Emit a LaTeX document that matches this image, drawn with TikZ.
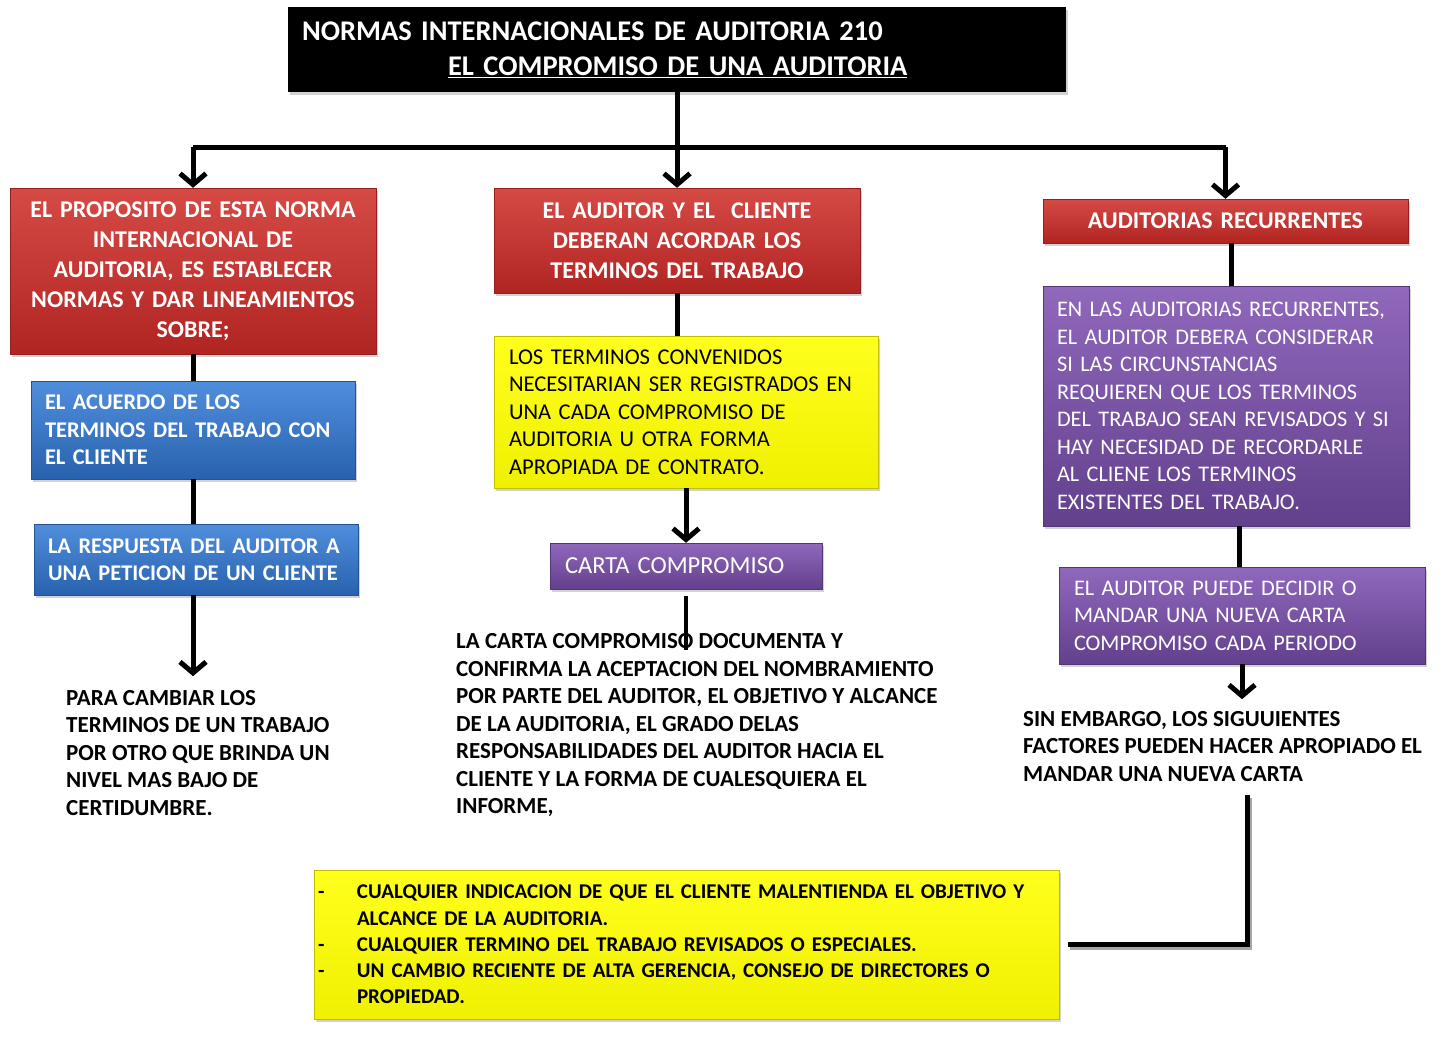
\documentclass[tikz,border=0pt]{standalone}
\usepackage{fontspec}
\setmainfont{Carlito}
\usetikzlibrary{arrows.meta,shadows}
\definecolor{redtop}{RGB}{214,74,70}
\definecolor{redbot}{RGB}{176,36,34}
\definecolor{bluetop}{RGB}{80,142,220}
\definecolor{bluebot}{RGB}{40,98,174}
\definecolor{purpletop}{RGB}{144,104,188}
\definecolor{purplebot}{RGB}{98,64,140}
\definecolor{yellowtop}{RGB}{255,255,30}
\definecolor{yellowbot}{RGB}{240,240,0}
\tikzset{
  box/.style={inner ysep=0pt, drop shadow={shadow xshift=2pt,shadow yshift=-3pt,opacity=0.35}},
  titlebox/.style={box, fill=black, text=white, align=left,
    font=\bfseries\fontsize{28.5}{35}\selectfont},
  redbox/.style={box, top color=redtop, bottom color=redbot, draw=redbot!85!black,
    text=white, align=center, font=\bfseries\fontsize{24}{30}\selectfont},
  bluebox/.style={box, top color=bluetop, bottom color=bluebot, draw=bluebot!85!black,
    text=white, align=left, font=\bfseries\fontsize{22.4}{27.5}\selectfont},
  yellowbox/.style={box, top color=yellowtop, bottom color=yellowbot, draw=yellowbot!80!black,
    text=black, align=left, font=\fontsize{22.6}{27.5}\selectfont},
  purplebox/.style={box, top color=purpletop, bottom color=purplebot, draw=purplebot!85!black,
    text=white, align=left, font=\fontsize{22.3}{27.5}\selectfont},
  plain/.style={inner sep=0pt, anchor=west, align=left, font=\bfseries\fontsize{23}{27.5}\selectfont},
  conn/.style={line width=5pt},
  arr/.style={conn, -{Straight Barb[length=11pt,width=26pt]}}
}
\begin{document}
\begin{tikzpicture}[x=1pt,y=-1pt]
  \useasboundingbox[fill=white] (0,0) rectangle (1445,1036);
  % title
  \node[titlebox, minimum width=778pt, minimum height=85pt, text width=750pt, inner xsep=14pt]
    (t) at (677,49.5) {NORMAS INTERNACIONALES DE AUDITORIA 210\\
      \hspace*{146pt}\underline{EL COMPROMISO DE UNA AUDITORIA}};
  % left column
  \node[redbox, minimum width=366pt, minimum height=166pt, text width=350pt, inner xsep=8pt]
    (r1) at (193,271) {EL PROPOSITO DE ESTA NORMA\\ INTERNACIONAL DE\\
      AUDITORIA, ES ESTABLECER\\ NORMAS Y DAR LINEAMIENTOS\\ SOBRE;};
  \node[bluebox, minimum width=324pt, minimum height=98pt, text width=300pt, inner xsep=12pt]
    (b1) at (193,430) {\hspace*{2pt}EL ACUERDO DE LOS\\ \hspace*{2pt}TERMINOS DEL TRABAJO CON\\ \hspace*{2pt}EL CLIENTE};
  \node[bluebox, minimum width=324pt, minimum height=71pt, text width=300pt, inner xsep=12pt]
    (b2) at (196,559.5) {\hspace*{2pt}LA RESPUESTA DEL AUDITOR A\\ \hspace*{2pt}UNA PETICION DE UN CLIENTE};
  \node[plain] (p) at (66,753) {PARA CAMBIAR LOS\\ TERMINOS DE UN TRABAJO\\
    POR OTRO QUE BRINDA UN\\ NIVEL MAS BAJO DE\\ CERTIDUMBRE.};
  % middle column
  \node[redbox, minimum width=366pt, minimum height=105pt, text width=350pt, inner xsep=8pt]
    (r2) at (677,240.5) {EL AUDITOR Y EL \ CLIENTE\\ DEBERAN ACORDAR LOS\\ TERMINOS DEL TRABAJO};
  \node[yellowbox, minimum width=384pt, minimum height=152pt, text width=360pt, inner xsep=12pt]
    (y1) at (686,412) {\hspace*{3pt}LOS TERMINOS CONVENIDOS\\ \hspace*{3pt}NECESITARIAN SER REGISTRADOS EN\\
      \hspace*{3pt}UNA CADA COMPROMISO DE\\ \hspace*{3pt}AUDITORIA U OTRA FORMA\\ \hspace*{3pt}APROPIADA DE CONTRATO.};
  \node[purplebox, minimum width=272pt, minimum height=46pt, text width=252pt, inner xsep=10pt,
    font=\fontsize{24.5}{27.5}\selectfont]
    (c) at (686,566) {\hspace*{5pt}CARTA COMPROMISO};
  \node[plain] (lc) at (456,725.5) {LA CARTA COMPROMISO DOCUMENTA Y\\
    CONFIRMA LA ACEPTACION DEL NOMBRAMIENTO\\
    POR PARTE DEL AUDITOR, EL OBJETIVO Y ALCANCE\\
    DE LA AUDITORIA, EL GRADO DELAS\\
    RESPONSABILIDADES DEL AUDITOR HACIA EL\\
    CLIENTE Y LA FORMA DE CUALESQUIERA EL\\ INFORME,};
  % right column
  \node[redbox, minimum width=365pt, minimum height=44pt, text width=349pt, inner xsep=8pt]
    (r3) at (1225.5,221) {AUDITORIAS RECURRENTES};
  \node[purplebox, minimum width=366pt, minimum height=240pt, text width=346pt, inner xsep=10pt]
    (p1) at (1226,406) {\hspace*{4pt}EN LAS AUDITORIAS RECURRENTES,\\ \hspace*{4pt}EL AUDITOR DEBERA CONSIDERAR\\
      \hspace*{4pt}SI LAS CIRCUNSTANCIAS\\ \hspace*{4pt}REQUIEREN QUE LOS TERMINOS\\
      \hspace*{4pt}DEL TRABAJO SEAN REVISADOS Y SI\\
      \hspace*{4pt}HAY NECESIDAD DE RECORDARLE\\ \hspace*{4pt}AL CLIENE LOS TERMINOS\\
      \hspace*{4pt}EXISTENTES DEL TRABAJO.};
  \node[purplebox, minimum width=366pt, minimum height=97pt, text width=346pt, inner xsep=10pt]
    (p2) at (1242,615.5) {\hspace*{5pt}EL AUDITOR PUEDE DECIDIR O\\ \hspace*{5pt}MANDAR UNA NUEVA CARTA\\
      \hspace*{5pt}COMPROMISO CADA PERIODO};
  \node[plain] (s) at (1023,746.5) {SIN EMBARGO, LOS SIGUUIENTES\\
    FACTORES PUEDEN HACER APROPIADO EL\\ MANDAR UNA NUEVA CARTA};
  % bottom list
  \node[yellowbox, minimum width=745pt, minimum height=149pt, text width=737pt, inner xsep=4pt,
    font=\bfseries\fontsize{21}{26.2}\selectfont]
    (bt) at (686.5,944.5) {\makebox[39pt][l]{-}CUALQUIER INDICACION DE QUE EL CLIENTE MALENTIENDA EL OBJETIVO Y\\
      \hspace*{39pt}ALCANCE DE LA AUDITORIA.\\
      \makebox[39pt][l]{-}CUALQUIER TERMINO DEL TRABAJO REVISADOS O ESPECIALES.\\
      \makebox[39pt][l]{-}UN CAMBIO RECIENTE DE ALTA GERENCIA, CONSEJO DE DIRECTORES O\\
      \hspace*{39pt}PROPIEDAD.};
  % connectors
  \coordinate (jl) at (193,147);
  \coordinate (jr) at (1225.5,147);
  \coordinate (ce) at (686,650);
  \coordinate (k) at (1247,795);
  \draw[arr] (t.south) -- (r2.north);
  \draw[conn] (jl) -- (jr);
  \draw[arr] (jl) -- (r1.north);
  \draw[arr] (jr) -- (r3.north);
  \draw[conn] (r1.south) -- (b1.north);
  \draw[conn] (b1.south) -- (b1.south |- b2.north);
  \draw[arr, shorten >=14pt] (b1.south |- b2.south) -- (b1.south |- p.north);
  \draw[conn] (r2.south) -- (r2.south |- y1.north);
  \draw[arr] (c.north |- y1.south) -- (c.north);
  \draw[conn, line width=4pt, shorten <=7pt] (c.south) -- (ce);
  \draw[conn] ([xshift=6pt]r3.south) -- ([xshift=6pt]r3.south |- p1.north);
  \draw[conn] ([xshift=-3pt]p2.north |- p1.south) -- ([xshift=-3pt]p2.north);
  \draw[arr, shorten >=12pt] (p2.south) -- (p2.south |- s.north);
  \draw[conn, black!35, shorten >=9pt, transform canvas={xshift=2pt,yshift=-3pt}] (k) |- (bt.east);
  \draw[conn, shorten >=9pt] (k) |- (bt.east);
\end{tikzpicture}
\end{document}
